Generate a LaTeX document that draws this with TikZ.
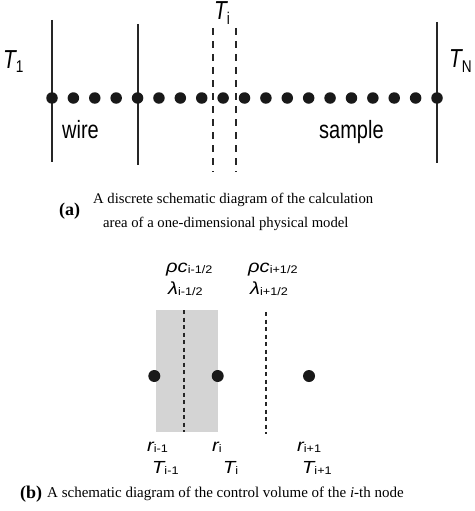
\documentclass[tikz,border=0pt]{standalone}
\usepackage{fontspec}
\setmainfont{Liberation Serif}
\newfontfamily\sansA[FakeStretch=0.8]{Liberation Sans}
\newfontfamily\sansB[FakeStretch=1.15]{Liberation Sans}
\newcommand{\labA}[2]{{\sansA\fontsize{26pt}{28pt}\selectfont\itshape #1}{\sansA\fontsize{17pt}{18pt}\selectfont\raisebox{-5pt}{#2}}}
\newcommand{\labB}[2]{{\sansB\fontsize{17.5pt}{19pt}\selectfont\itshape #1}{\sansB\fontsize{11pt}{12pt}\selectfont\raisebox{-1pt}{#2}}}
\tikzset{
  dotnode/.style={circle, fill=black!90, inner sep=0pt, minimum size=11.5pt},
  solidline/.style={line width=1.6pt, black!85},
  dashlineA/.style={line width=1.6pt, black!85, dash pattern=on 7pt off 6pt},
  dashlineB/.style={line width=1.8pt, black!85, dash pattern=on 4pt off 3.5pt},
  txt/.style={anchor=base west, inner sep=0pt},
  sanslab/.style={txt, font=\sansA\fontsize{25pt}{27pt}\selectfont},
  capt/.style={txt, font=\fontsize{14.7pt}{17pt}\selectfont},
  captlab/.style={txt, font=\bfseries\fontsize{18pt}{20pt}\selectfont},
}
\begin{document}
\begin{tikzpicture}[x=1pt, y=-1pt]
\useasboundingbox (0,0) rectangle (474,511);
% ---------- (a) ----------
\draw[solidline] (52,20) -- (52,162);
\draw[solidline] (137.7,24) -- (137.7,165);
\draw[solidline] (437,22) -- (437,163);
\draw[dashlineA] (213,28) -- (213,172);
\draw[dashlineA] (236,28) -- (236,172);
\foreach \k in {0,...,18} \node[dotnode] (d\k) at ({52+21.39*\k},98) {};
\node[txt] (T1) at (3,68) {\labA{T}{1}};
\node[txt] (Ti) at (214,20) {\labA{T}{i}};
\node[txt] (TN) at (449,67) {\labA{T}{N}};
\node[sanslab] (wire) at (62,138) {wire};
\node[sanslab] (sample) at (319,138) {sample};
\node[captlab] (capa) at (59,215) {(a)};
\node[capt] (capa1) at (93,203) {A discrete schematic diagram of the calculation};
\node[capt] (capa2) at (103,227) {area of a one-dimensional physical model};
% ---------- (b) ----------
\fill[black!17] (155.7,310) rectangle (218.3,432);
\draw[dashlineB] (184.3,310) -- (184.3,432);
\draw[dashlineB] (266,312) -- (266,434);
\node[dotnode, minimum size=12pt] (p1) at (154.3,376) {};
\node[dotnode, minimum size=12pt] (p2) at (217.7,376) {};
\node[dotnode, minimum size=12pt] (p3) at (309,376) {};
\node[txt] (rc1) at (166,272) {\labB{ρc}{i-1/2}};
\node[txt] (la1) at (168,294) {\labB{λ}{i-1/2}};
\node[txt] (rc2) at (248,272) {\labB{ρc}{i+1/2}};
\node[txt] (la2) at (250,294) {\labB{λ}{i+1/2}};
\node[txt] (r1) at (147,451) {\labB{r}{i-1}};
\node[txt] (t1) at (152,473) {\labB{T}{i-1}};
\node[txt] (r2) at (212,451) {\labB{r}{i}};
\node[txt] (t2) at (223,473) {\labB{T}{i}};
\node[txt] (r3) at (297,451) {\labB{r}{i+1}};
\node[txt] (t3) at (302,473) {\labB{T}{i+1}};
\node[captlab] (capb) at (20,498) {(b)};
\node[txt, font=\fontsize{15pt}{17pt}\selectfont] (capb1) at (47,497) {A schematic diagram of the control volume of the \textit{i}-th node};
\end{tikzpicture}
\end{document}
